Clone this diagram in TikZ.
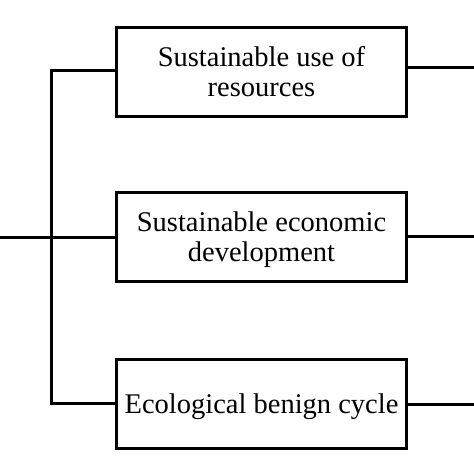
\documentclass[tikz,border=0pt]{standalone}
\usepackage{fontspec}
\setmainfont{Liberation Serif}
\begin{document}
\begin{tikzpicture}[x=1pt,y=-1pt,
  boxnode/.style={draw=black,line width=3pt,minimum width=290pt,minimum height=89pt,inner sep=0pt,
    align=center,text depth=0pt,font=\fontsize{28.5}{30}\selectfont},
  link/.style={draw=black,line width=3pt,line join=miter}]
\useasboundingbox[fill=white] (0,0) rectangle (474,474);
\node[boxnode] (b1) at (261.5,71.5) {Sustainable use of\\resources};
\node[boxnode] (b2) at (261.5,237) {Sustainable economic\\development};
\node[boxnode] (b3) at (261.5,403.5) {Ecological benign cycle};
\coordinate (j1) at (51,70.5);
\coordinate (j3) at (51,403.5);
\coordinate (lin) at (0,237);
\coordinate (r1) at (474,67.5);
\coordinate (r2) at (474,236);
\coordinate (r3) at (474,404);
\draw[link] (b1.west |- j1) -- (j1) -- (j3) -- (b3.west |- j3);
\draw[link] (lin) -- (b2.west);
\draw[link] (b1.east |- r1) -- (r1);
\draw[link] (b2.east |- r2) -- (r2);
\draw[link] (b3.east |- r3) -- (r3);
\end{tikzpicture}
\end{document}
